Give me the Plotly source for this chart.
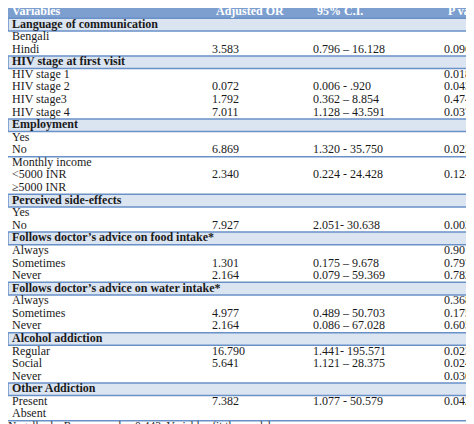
import plotly.graph_objects as go

header = ["Variables", "Adjusted OR", "95% C.I.", "P value"]
labels = ["Language of communication", "Bengali", "Hindi",
          "HIV stage at first visit", "HIV stage 1", "HIV stage 2", "HIV stage3", "HIV stage 4",
          "Employment", "Yes", "No",
          "Monthly income", "<5000 INR", "≥5000 INR",
          "Perceived side-effects", "Yes", "No",
          "Follows doctor’s advice on food intake*", "Always", "Sometimes", "Never",
          "Follows doctor’s advice on water intake*", "Always", "Sometimes", "Never",
          "Alcohol addiction", "Regular", "Social", "Never",
          "Other Addiction", "Present", "Absent"]
odds = ["", "", "3.583", "", "", "0.072", "1.792", "7.011", "", "", "6.869", "", "2.340", "",
        "", "", "7.927", "", "", "1.301", "2.164", "", "", "4.977", "2.164", "", "16.790", "5.641", "",
        "", "7.382", ""]
ci = ["", "", "0.796 – 16.128", "", "", "0.006 - .920", "0.362 – 8.854", "1.128 – 43.591", "", "",
      "1.320 - 35.750", "", "0.224 - 24.428", "", "", "", "2.051- 30.638", "", "", "0.175 – 9.678",
      "0.079 – 59.369", "", "", "0.489 – 50.703", "0.086 – 67.028", "", "1.441- 195.571",
      "1.121 – 28.375", "", "", "1.077 - 50.579", ""]
pvals = ["", "", "0.096", "", "0.018", "0.043*", "0.474", "0.037*", "", "", "0.022*", "", "0.124", "",
         "", "", "0.003*", "", "0.901", "0.797", "0.782", "", "0.368", "0.175", "0.605", "",
         "0.023*", "0.024*", "0.036", "", "0.042*", ""]
sections = ["Language of communication", "HIV stage at first visit", "Employment",
            "Perceived side-effects", "Follows doctor’s advice on food intake*",
            "Follows doctor’s advice on water intake*", "Alcohol addiction", "Other Addiction"]
footnote = "Nagelkerke R square value 0.443. Variables fit the model."

col_x = [4, 204, 305, 436]
font = "Liberation Serif"
line_c = "#6a90c8"

fig = go.Figure()
shapes = []
shapes.append(dict(type="rect", xref="x", yref="y", x0=0, x1=474, y0=-0.6, y1=0.5,
                   fillcolor="#7d9fd0", line_width=0, layer="below"))
rows_y = list(range(1, len(labels) + 1))
for lab, y in zip(labels, rows_y):
    if lab in sections:
        shapes.append(dict(type="rect", xref="x", yref="y", x0=0, x1=474, y0=y - 0.5, y1=y + 0.5,
                           fillcolor="#dbe4f1", line=dict(color=line_c, width=1.5), layer="below"))
    if lab == "Monthly income":
        shapes.append(dict(type="line", xref="x", yref="y", x0=0, x1=474, y0=y - 0.5, y1=y - 0.5,
                           line=dict(color=line_c, width=1.5)))
shapes.append(dict(type="line", xref="x", yref="y", x0=0, x1=474, y0=len(labels) + 0.5,
                   y1=len(labels) + 0.5, line=dict(color=line_c, width=1.5)))

for x, h in zip(col_x, header):
    fig.add_trace(go.Scatter(x=[x if h == "Variables" else x + 4], y=[0], mode="text", text=[f"<b>{h}</b>"],
                             textposition="middle right", cliponaxis=False,
                             textfont=dict(family=font, size=12, color="white"),
                             showlegend=False, hoverinfo="skip"))

texts = [f"<b>{l}</b>" if l in sections else l for l in labels]
for x, col in zip(col_x, [texts, odds, ci, pvals]):
    fig.add_trace(go.Scatter(x=[x] * len(col), y=rows_y, mode="text", text=col,
                             textposition="middle right", cliponaxis=False,
                             textfont=dict(family=font, size=12, color="#1a1a1a"),
                             showlegend=False, hoverinfo="skip"))
fig.add_trace(go.Scatter(x=[0], y=[len(labels) + 1], mode="text", text=[footnote],
                         textposition="middle right", cliponaxis=False,
                         textfont=dict(family=font, size=11.5, color="#1a1a1a"),
                         showlegend=False, hoverinfo="skip"))

fig.update_layout(width=474, height=424, margin=dict(l=0, r=0, t=0, b=0),
                  paper_bgcolor="white", plot_bgcolor="white", shapes=shapes,
                  xaxis=dict(range=[0, 474], visible=False, fixedrange=True),
                  yaxis=dict(range=[33.4, -0.32], visible=False, fixedrange=True))
fig.write_html("out.html")
